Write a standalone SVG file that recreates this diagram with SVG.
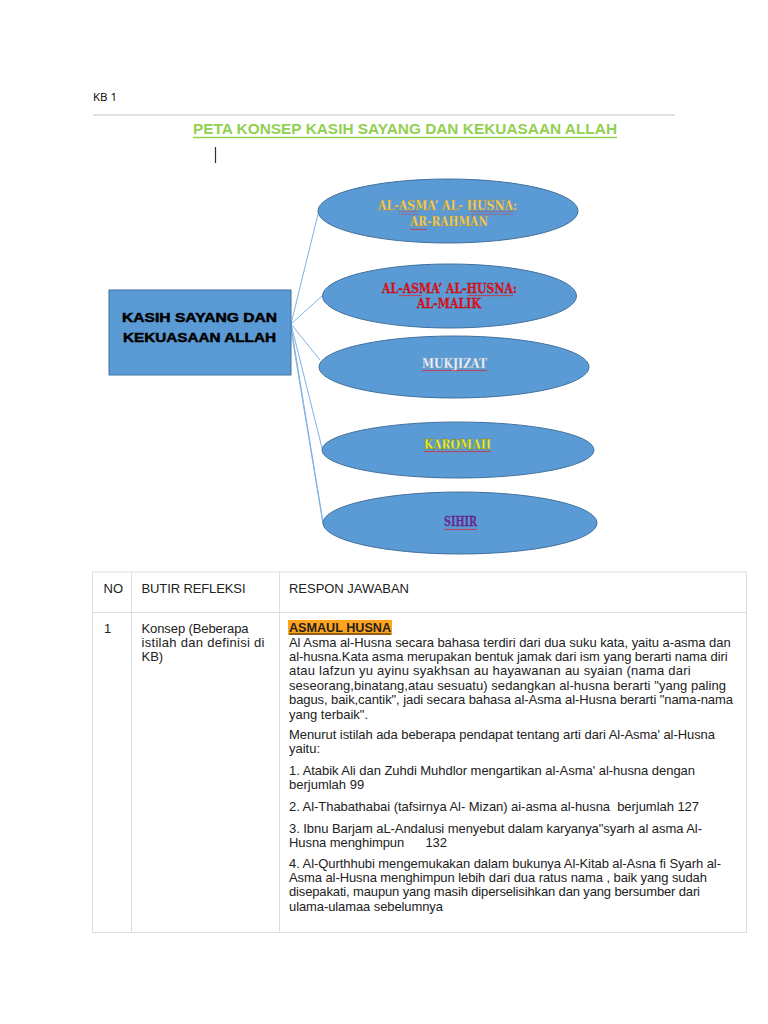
<svg xmlns="http://www.w3.org/2000/svg" width="768" height="1024" viewBox="0 0 768 1024">
<style>
.body{font-family:"Liberation Sans",Arial,sans-serif;font-size:13px;fill:#222;white-space:pre}
.node{fill:#5b9bd5;stroke:#41719c;stroke-width:1}
.lbl{font-family:"DejaVu Serif","Liberation Serif",serif;font-weight:bold;font-size:13.5px;stroke-width:0.3}
.conn{stroke:#7fb2e5;stroke-width:1;fill:none}
.grid{stroke:#dcdfe0;stroke-width:1;fill:none}
</style>
<defs>
<pattern id="wave" width="4" height="3" patternUnits="userSpaceOnUse">
<path d="M0 2.2 Q1 0.2 2 1.5 T4 1.2" fill="none" stroke="#e0202a" stroke-width="0.8"/>
</pattern>
</defs>
<rect width="768" height="1024" fill="#ffffff"/>

<text x="93" y="101" font-family="'Open Sans','Liberation Sans',sans-serif" font-size="11.5" fill="#000">KB 1</text>
<line x1="93" y1="115" x2="675" y2="115" stroke="#c4c4c4" stroke-width="1"/>

<g id="title">
<text x="193" y="134" font-family="'Liberation Sans',Arial,sans-serif" font-weight="bold" font-size="14.5" fill="#92d050" textLength="424" lengthAdjust="spacingAndGlyphs">PETA KONSEP KASIH SAYANG DAN KEKUASAAN ALLAH</text>
<line x1="193" y1="137.5" x2="617" y2="137.5" stroke="#92d050" stroke-width="1.3"/>
</g>
<line x1="215.5" y1="147" x2="215.5" y2="163" stroke="#333" stroke-width="1.2"/>

<g id="connectors">
<line class="conn" x1="291" y1="324" x2="319" y2="210"/>
<line class="conn" x1="291" y1="324" x2="323" y2="295"/>
<line class="conn" x1="291" y1="324" x2="320" y2="360"/>
<line class="conn" x1="291" y1="324" x2="322" y2="448"/>
<line class="conn" x1="291" y1="326" x2="323" y2="522"/>
<line class="conn" x1="291" y1="330" x2="323" y2="524"/>
</g>

<g id="center">
<rect class="node" x="109" y="290" width="182" height="85"/>
<text x="122" y="322" font-family="'Liberation Sans',Arial,sans-serif" font-weight="bold" font-size="13.5" fill="#000" textLength="155" lengthAdjust="spacingAndGlyphs" stroke="#000" stroke-width="0.5">KASIH SAYANG DAN</text>
<text x="123" y="342" font-family="'Liberation Sans',Arial,sans-serif" font-weight="bold" font-size="13.5" fill="#000" textLength="153" lengthAdjust="spacingAndGlyphs" stroke="#000" stroke-width="0.5">KEKUASAAN ALLAH</text>
</g>

<g id="ar-rahman">
<ellipse class="node" cx="448" cy="211" rx="130" ry="32"/>
<text class="lbl" x="378" y="210" fill="#f7cf5c" stroke="#b08a2a" textLength="139" lengthAdjust="spacingAndGlyphs">AL-ASMA’ AL- HUSNA:</text>
<text class="lbl" x="410" y="226" fill="#f7cf5c" stroke="#b08a2a" textLength="78" lengthAdjust="spacingAndGlyphs">AR-RAHMAN</text>
<rect x="399" y="211.5" width="19" height="3" fill="url(#wave)"/>
<rect x="471" y="211.5" width="42" height="3" fill="url(#wave)"/>
<rect x="410" y="227.5" width="17" height="3" fill="url(#wave)"/>
</g>

<g id="al-malik">
<ellipse class="node" cx="449.5" cy="296" rx="127" ry="32"/>
<text class="lbl" x="382" y="293" fill="#e8141c" stroke="#9a0c10" textLength="135" lengthAdjust="spacingAndGlyphs">AL-ASMA’ AL-HUSNA:</text>
<text class="lbl" x="417" y="308" fill="#e8141c" stroke="#9a0c10" textLength="64" lengthAdjust="spacingAndGlyphs">AL-MALIK</text>
<rect x="399" y="294.5" width="23" height="3" fill="url(#wave)"/>
<rect x="468" y="294.5" width="45" height="3" fill="url(#wave)"/>
</g>

<g id="mukjizat">
<ellipse class="node" cx="454" cy="367" rx="135" ry="31"/>
<text class="lbl" x="422" y="368" fill="#f4f4f4" stroke="#8da7c4" textLength="65" lengthAdjust="spacingAndGlyphs">MUKJIZAT</text>
<rect x="422" y="369.5" width="65" height="3" fill="url(#wave)"/>
</g>

<g id="karomah">
<ellipse class="node" cx="458" cy="450" rx="136" ry="28"/>
<text class="lbl" x="424" y="449" fill="#f5f51a" stroke="#6b6b10" textLength="67" lengthAdjust="spacingAndGlyphs">KAROMAH</text>
<rect x="424" y="450.5" width="67" height="3" fill="url(#wave)"/>
</g>

<g id="sihir">
<ellipse class="node" cx="460" cy="523" rx="137" ry="31"/>
<text class="lbl" x="444" y="526" fill="#7030a0" stroke="#4a1f6b" textLength="33" lengthAdjust="spacingAndGlyphs">SIHIR</text>
<rect x="444" y="527.5" width="33" height="3" fill="url(#wave)"/>
</g>

<g id="table">
<rect class="grid" x="92.5" y="572" width="654" height="360.5"/>
<line class="grid" x1="92.5" y1="612.5" x2="746.5" y2="612.5"/>
<line class="grid" x1="131.5" y1="572" x2="131.5" y2="932.5"/>
<line class="grid" x1="279.5" y1="572" x2="279.5" y2="932.5"/>
<text class="body" x="103.5" y="592.5">NO</text>
<text class="body" x="141.5" y="592.5" textLength="104" lengthAdjust="spacing">BUTIR REFLEKSI</text>
<text class="body" x="289" y="592.5" textLength="120" lengthAdjust="spacing">RESPON JAWABAN</text>
<text class="body" x="104" y="632.5">1</text>
<text class="body" x="141.5" y="632.5" textLength="107" lengthAdjust="spacing">Konsep (Beberapa</text>
<text class="body" x="141.5" y="646.7" textLength="123" lengthAdjust="spacing">istilah dan definisi di</text>
<text class="body" x="141.5" y="660.9">KB)</text>
<rect x="288" y="620" width="104" height="15" fill="#ffa41c"/>
<text class="body" x="289" y="632" font-weight="bold" fill="#1a1a1a" textLength="102" lengthAdjust="spacingAndGlyphs">ASMAUL HUSNA</text>
<line x1="289" y1="634" x2="391" y2="634" stroke="#1a1a1a" stroke-width="1"/>
<text class="body" x="289" y="646.5" textLength="441.7" lengthAdjust="spacing">Al Asma al-Husna secara bahasa terdiri dari dua suku kata, yaitu a-asma dan</text>
<text class="body" x="289" y="660.9" textLength="438.7" lengthAdjust="spacing">al-husna.Kata asma merupakan bentuk jamak dari ism yang berarti nama diri</text>
<text class="body" x="289" y="675.3" textLength="401.7" lengthAdjust="spacing">atau lafzun yu ayinu syakhsan au hayawanan au syaian (nama dari</text>
<text class="body" x="289" y="689.7" textLength="437" lengthAdjust="spacing">seseorang,binatang,atau sesuatu) sedangkan al-husna berarti "yang paling</text>
<text class="body" x="289" y="704.1" textLength="444" lengthAdjust="spacing">bagus, baik,cantik", jadi secara bahasa al-Asma al-Husna berarti "nama-nama</text>
<text class="body" x="289" y="718.5">yang terbaik".</text>
<text class="body" x="289" y="738.5" textLength="426" lengthAdjust="spacing">Menurut istilah ada beberapa pendapat tentang arti dari Al-Asma' al-Husna</text>
<text class="body" x="289" y="752.7">yaitu:</text>
<text class="body" x="289" y="775" textLength="406" lengthAdjust="spacing">1. Atabik Ali dan Zuhdi Muhdlor mengartikan al-Asma' al-husna dengan</text>
<text class="body" x="289" y="789.2">berjumlah 99</text>
<text class="body" x="289" y="811" textLength="410" lengthAdjust="spacing">2. Al-Thabathabai (tafsirnya Al- Mizan) ai-asma al-husna  berjumlah 127</text>
<text class="body" x="289" y="832.5" textLength="413" lengthAdjust="spacing">3. Ibnu Barjam aL-Andalusi menyebut dalam karyanya"syarh al asma Al-</text>
<text class="body" x="289" y="846.7" textLength="158" lengthAdjust="spacing">Husna menghimpun      132</text>
<text class="body" x="289" y="868" textLength="432" lengthAdjust="spacing">4. Al-Qurthhubi mengemukakan dalam bukunya Al-Kitab al-Asna fi Syarh al-</text>
<text class="body" x="289" y="882.2" textLength="418" lengthAdjust="spacing">Asma al-Husna menghimpun lebih dari dua ratus nama , baik yang sudah</text>
<text class="body" x="289" y="896.4" textLength="411" lengthAdjust="spacing">disepakati, maupun yang masih diperselisihkan dan yang bersumber dari</text>
<text class="body" x="289" y="910.6" textLength="154" lengthAdjust="spacing">ulama-ulamaa sebelumnya</text>
</g>
</svg>
